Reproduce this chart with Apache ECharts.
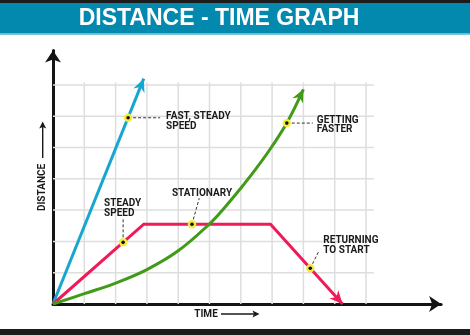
<!DOCTYPE html>
<html><head><meta charset="utf-8">
<script src="https://cdn.jsdelivr.net/npm/echarts@6/dist/echarts.min.js"></script>
<style>html,body{margin:0;padding:0;background:#fff;}#c{width:470px;height:335px;}</style>
</head><body><div id="c"></div>
<script>
// ---------- data ----------
const titleText = 'DISTANCE - TIME GRAPH';
const xAxisName = 'TIME';
const yAxisName = 'DISTANCE';
const gridXs = [1, 2, 3, 4, 5, 6, 7, 8, 9, 10];
const gridYs = [1, 2, 3, 4, 5, 6, 7];
const fastX = [0, 2.9];
const fastY = [0, 7.2];
const steadyX = [0, 2.9, 6.95, 9.25];
const steadyY = [0, 2.55, 2.55, 0];
const fasterX = [0, 1, 2, 3, 4, 5, 5.5, 6, 6.5, 7, 7.5, 8];
const fasterY = [0, 0.33, 0.67, 1.1, 1.7, 2.56, 3.1, 3.7, 4.34, 5.04, 5.84, 6.86];
const markerX = [2.4, 7.47, 2.24, 4.44, 8.22];
const markerY = [5.95, 5.78, 1.97, 2.55, 1.14];
const markerLabels = ['FAST, STEADY\nSPEED', 'GETTING\nFASTER', 'STEADY\nSPEED', 'STATIONARY', 'RETURNING\nTO START'];

// ---------- styles / layout ----------
const COLORS = ['#17a6d0', '#ef1a58', '#419b18'];
const UNIT = 31.3;
const X_MAX = 12.4, Y_MAX = 8.1;
const LEFT = 53, AXIS_Y = 304;
const GRID_TOP_EXT = 7.08, GRID_RIGHT_EXT = 10.25;
// per-marker leader end offset, label offset, align
const ANN = [
  {lx: 32, ly: 0, tx: 38, ty: 3.7, align: 'left'},
  {lx: 26, ly: 0, tx: 30, ty: 2, align: 'left'},
  {lx: 0, ly: -25, tx: -19, ty: -34, align: 'left'},
  {lx: 7.3, ly: -26, tx: 10, ty: -31, align: 'center'},
  {lx: 9, ly: -18, tx: 13, ty: -23, align: 'left'}
];
const LABEL_FONT = 'bold 10px Roboto';

const pairs = (xs, ys) => xs.map((x, i) => [x, ys[i]]);
const n = a => a.length;
const arrowData = [
  [fastX[n(fastX)-1], fastY[n(fastY)-1], fastX[n(fastX)-2], fastY[n(fastY)-2], 0],
  [steadyX[n(steadyX)-1], steadyY[n(steadyY)-1], steadyX[n(steadyX)-2], steadyY[n(steadyY)-2], 1],
  [fasterX[n(fasterX)-1], fasterY[n(fasterY)-1], fasterX[n(fasterX)-2], fasterY[n(fasterY)-2], 2]
];

const chart = echarts.init(document.getElementById('c'), null, {renderer: 'canvas'});
const gridW = X_MAX * UNIT, gridH = Y_MAX * UNIT;

function arrowPts(t, ang, L, W, N) {
  return [[0, 0], [-L, -W / 2], [-L + N, 0], [-L, W / 2]].map(([a, b]) => [
    t[0] + a * Math.cos(ang) - b * Math.sin(ang),
    t[1] + a * Math.sin(ang) + b * Math.cos(ang)
  ]);
}

const axisCommon = {
  type: 'value', min: 0,
  axisLine: {show: true, onZero: false, symbol: ['none', 'arrow'], symbolSize: [12, 12],
    lineStyle: {color: '#141414', width: 3}},
  axisTick: {show: false}, axisLabel: {show: false}, splitLine: {show: false}
};

chart.setOption({
  animation: false,
  backgroundColor: '#ffffff',
  grid: {left: LEFT, top: AXIS_Y - gridH, width: gridW, height: gridH, containLabel: false},
  xAxis: Object.assign({}, axisCommon, {max: X_MAX}),
  yAxis: Object.assign({}, axisCommon, {max: Y_MAX}),
  graphic: [
    {type: 'rect', shape: {x: 0, y: 0, width: 470, height: 3}, style: {fill: '#1c1c1c'}},
    {type: 'rect', shape: {x: 0, y: 3, width: 470, height: 30.5}, style: {fill: '#0389ae'}},
    {type: 'rect', shape: {x: 0, y: 33.5, width: 470, height: 1.3}, style: {fill: '#4fb4d1'}},
    {type: 'text', x: 219, y: 19, style: {text: titleText, font: 'bold 23px "Liberation Sans", Arial, sans-serif',
      fill: '#ffffff', align: 'center', verticalAlign: 'middle'}},
    {type: 'rect', shape: {x: 0, y: 329, width: 470, height: 6}, style: {fill: '#1c1c1c'}},
    {type: 'text', x: 42.7, y: 187.5, rotation: Math.PI / 2, style: {text: yAxisName, font: LABEL_FONT,
      fill: '#1a1a1a', align: 'center', verticalAlign: 'middle'}},
    {type: 'line', shape: {x1: 42.7, y1: 158, x2: 42.7, y2: 126}, style: {stroke: '#1a1a1a', lineWidth: 1.4}},
    {type: 'polygon', shape: {points: arrowPts([42.7, 121.5], -Math.PI / 2, 7, 7, 1.5)}, style: {fill: '#1a1a1a'}},
    {type: 'text', x: 206, y: 314.5, style: {text: xAxisName, font: LABEL_FONT,
      fill: '#1a1a1a', align: 'center', verticalAlign: 'middle'}},
    {type: 'line', shape: {x1: 221, y1: 314, x2: 254, y2: 314}, style: {stroke: '#1a1a1a', lineWidth: 1.4}},
    {type: 'polygon', shape: {points: arrowPts([259.5, 314], 0, 7, 7, 1.5)}, style: {fill: '#1a1a1a'}}
  ],
  series: [
    { // vertical grid lines
      type: 'custom', z: 1, silent: true,
      data: gridXs.map(x => [x, 0]),
      renderItem: (p, api) => {
        const a = api.coord([api.value(0), 0]);
        const b = api.coord([api.value(0), GRID_TOP_EXT]);
        return {type: 'line', shape: {x1: a[0], y1: a[1], x2: b[0], y2: b[1]},
          style: {stroke: '#dedede', lineWidth: 1.5}};
      }
    },
    { // horizontal grid lines
      type: 'custom', z: 1, silent: true,
      data: gridYs.map(y => [0, y]),
      renderItem: (p, api) => {
        const a = api.coord([0, api.value(1)]);
        const b = api.coord([GRID_RIGHT_EXT, api.value(1)]);
        return {type: 'line', shape: {x1: a[0], y1: a[1], x2: b[0], y2: b[1]},
          style: {stroke: '#dedede', lineWidth: 1.5}};
      }
    },
    {type: 'line', z: 3, data: pairs(fastX, fastY), showSymbol: false, symbol: 'none',
      lineStyle: {color: COLORS[0], width: 3}},
    {type: 'line', z: 3, data: pairs(steadyX, steadyY), showSymbol: false, symbol: 'none',
      lineStyle: {color: COLORS[1], width: 3, join: 'miter'}},
    {type: 'line', z: 3, data: pairs(fasterX, fasterY), showSymbol: false, symbol: 'none',
      smooth: 0.4,
      lineStyle: {color: COLORS[2], width: 3}},
    { // arrowheads
      type: 'custom', z: 4, silent: true, data: arrowData,
      renderItem: (p, api) => {
        const t = api.coord([api.value(0), api.value(1)]);
        const f = api.coord([api.value(2), api.value(3)]);
        const ang = Math.atan2(t[1] - f[1], t[0] - f[0]);
        return {type: 'polygon', shape: {points: arrowPts(t, ang, 13, 12, 4)},
          style: {fill: COLORS[api.value(4)]}};
      }
    },
    { // markers + leaders + labels
      type: 'custom', z: 5, silent: true,
      data: markerX.map((x, i) => [x, markerY[i], i]),
      renderItem: (p, api) => {
        const m = api.coord([api.value(0), api.value(1)]);
        const i = api.value(2);
        const a = ANN[i];
        return {type: 'group', children: [
          {type: 'line', shape: {x1: m[0], y1: m[1], x2: m[0] + a.lx, y2: m[1] + a.ly},
            style: {stroke: '#333', lineWidth: 1, lineDash: [3, 2]}},
          {type: 'circle', shape: {cx: m[0], cy: m[1], r: 4.2}, style: {fill: '#f3ec3c'}},
          {type: 'circle', shape: {cx: m[0], cy: m[1], r: 1.8}, style: {fill: '#111'}},
          {type: 'text', x: m[0] + a.tx, y: m[1] + a.ty, style: {text: markerLabels[i], font: LABEL_FONT,
            fill: '#1a1a1a', align: a.align, verticalAlign: 'middle', lineHeight: 9.5}}
        ]};
      }
    }
  ]
});
</script></body></html>
